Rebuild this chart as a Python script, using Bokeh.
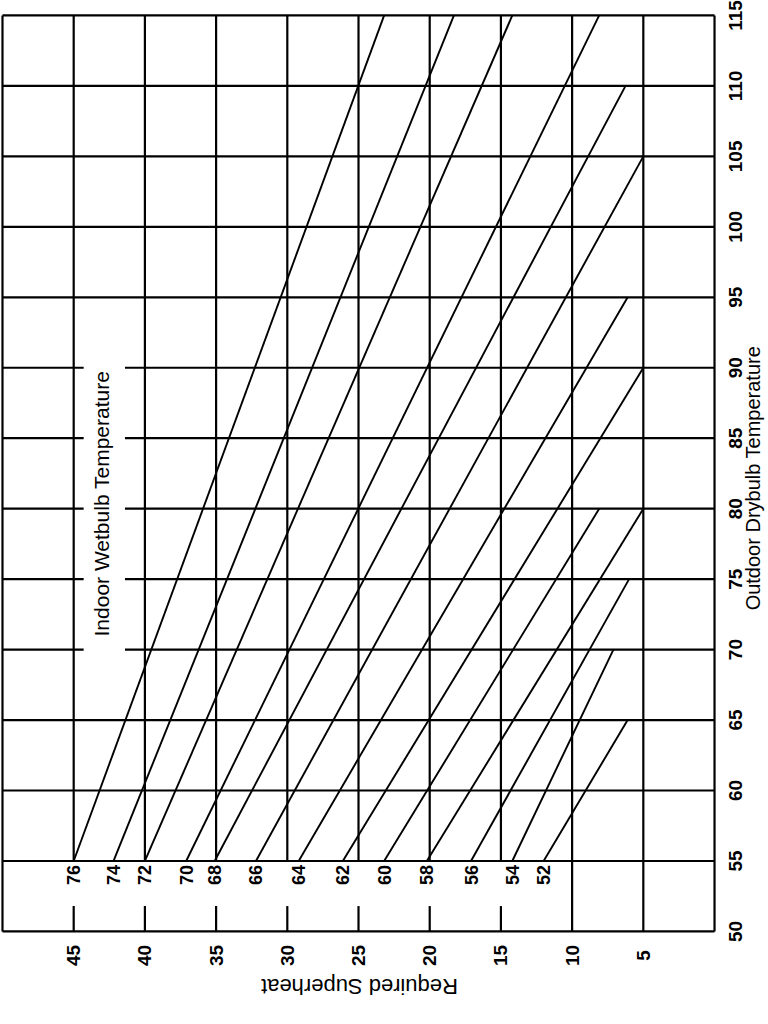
import math
from bokeh.plotting import figure
from bokeh.models import Range1d, ColumnDataSource
from bokeh.core.properties import value
from bokeh.embed import file_html
from bokeh.resources import INLINE

# ---------------- data ----------------
outdoor_ticks = [50, 55, 60, 65, 70, 75, 80, 85, 90, 95, 100, 105, 110, 115]
superheat_ticks = [5, 10, 15, 20, 25, 30, 35, 40, 45]
grid_temps = [55, 60, 65, 70, 75, 80, 85, 90, 95, 100, 105, 110]
wetbulb = [76, 74, 72, 70, 68, 66, 64, 62, 60, 58, 56, 54, 52]
start_temp = [55] * 13
start_superheat = [45.0, 42.2, 40.0, 37.1, 35.1, 32.2, 29.2, 26.1, 23.2, 20.2, 17.1, 14.2, 12.0]
end_temp = [115, 115, 115, 115, 110, 105, 95, 90, 80, 80, 75, 70, 65]
end_superheat = [23.2, 18.3, 14.2, 8.1, 6.25, 5.0, 6.1, 5.0, 8.1, 5.0, 6.0, 7.1, 6.1]

x_title = "Outdoor Drybulb Temperature"
y_title = "Required Superheat"
caption = "Indoor Wetbulb Temperature"

FONT = "Liberation Sans"
T_MIN, T_MAX = 50, 115      # chart box, outdoor temperature
S_MIN, S_MAX = 0, 50        # chart box, superheat

# the chart is drawn turned a quarter turn: superheat runs right-to-left,
# outdoor temperature bottom-to-top; the frame covers the whole canvas so that
# every text can sit around the chart box.
p = figure(width=766, height=1020,
           x_range=Range1d(50.14, -3.65), y_range=Range1d(43.68, 116.06),
           output_backend="svg", toolbar_location=None,
           x_axis_location=None, y_axis_location=None,
           min_border_left=0, min_border_right=0, min_border_top=0, min_border_bottom=0)
p.grid.visible = False
p.outline_line_color = None
p.background_fill_color = "white"
p.border_fill_color = "white"

# box
p.segment(x0=[S_MIN, S_MAX, S_MIN, S_MIN], y0=[T_MIN, T_MIN, T_MIN, T_MAX],
          x1=[S_MIN, S_MAX, S_MAX, S_MAX], y1=[T_MAX, T_MAX, T_MIN, T_MAX],
          line_color="black", line_width=2.2)

# horizontal grid lines (with a gap where the wetbulb caption sits)
gap_lo, gap_hi = 41.4, 44.3
hx0, hx1, hy = [], [], []
for t in grid_temps:
    if 70 <= t <= 90:
        hx0 += [S_MIN, gap_hi]; hx1 += [gap_lo, S_MAX]; hy += [t, t]
    else:
        hx0.append(S_MIN); hx1.append(S_MAX); hy.append(t)
p.segment(x0=hx0, y0=hy, x1=hx1, y1=hy, line_color="black", line_width=2.2)

# vertical grid lines
vx, vy0, vy1 = [], [], []
for s in superheat_ticks:
    if s <= 10:
        vx.append(s); vy0.append(T_MIN); vy1.append(T_MAX)
    else:
        vx += [s, s]; vy0 += [55, T_MIN]; vy1 += [T_MAX, 51.8]
p.segment(x0=vx, y0=vy0, x1=vx, y1=vy1, line_color="black", line_width=2.2)

# wetbulb lines and their labels
src = ColumnDataSource(dict(x0=start_superheat, y0=start_temp, x1=end_superheat, y1=end_temp,
                            lab=[str(w) for w in wetbulb], ly=[54.0] * len(wetbulb)))
p.segment(x0="x0", y0="y0", x1="x1", y1="y1", source=src, line_color="black", line_width=1.9)
p.text(x="x0", y="ly", text="lab", source=src, angle=math.pi / 2,
       text_align="center", text_baseline="middle",
       text_font=value(FONT), text_font_style="bold", text_font_size="18px", text_color="black")

# tick labels
p.text(x=[-1.47] * len(outdoor_ticks), y=outdoor_ticks, text=[str(t) for t in outdoor_ticks],
       angle=math.pi / 2, text_align="center", text_baseline="middle",
       text_font=value(FONT), text_font_style="bold", text_font_size="19px", text_color="black")
p.text(x=superheat_ticks, y=[48.3] * len(superheat_ticks), text=[str(s) for s in superheat_ticks],
       angle=math.pi / 2, text_align="center", text_baseline="middle",
       text_font=value(FONT), text_font_style="bold", text_font_size="19px", text_color="black")

# titles
p.text(x=[-2.67], y=[82.17], text=[x_title], angle=math.pi / 2,
       text_align="center", text_baseline="middle",
       text_font=value(FONT), text_font_size="20px", text_color="black")
p.text(x=[24.93], y=[46.1], text=[y_title], angle=math.pi,
       text_align="center", text_baseline="middle",
       text_font=value(FONT), text_font_size="22px", text_color="black")
p.text(x=[43.05], y=[80.36], text=[caption], angle=math.pi / 2,
       text_align="center", text_baseline="middle",
       text_font=value(FONT), text_font_size="21px", text_color="black")

open("out.html", "w").write(file_html(p, INLINE))
